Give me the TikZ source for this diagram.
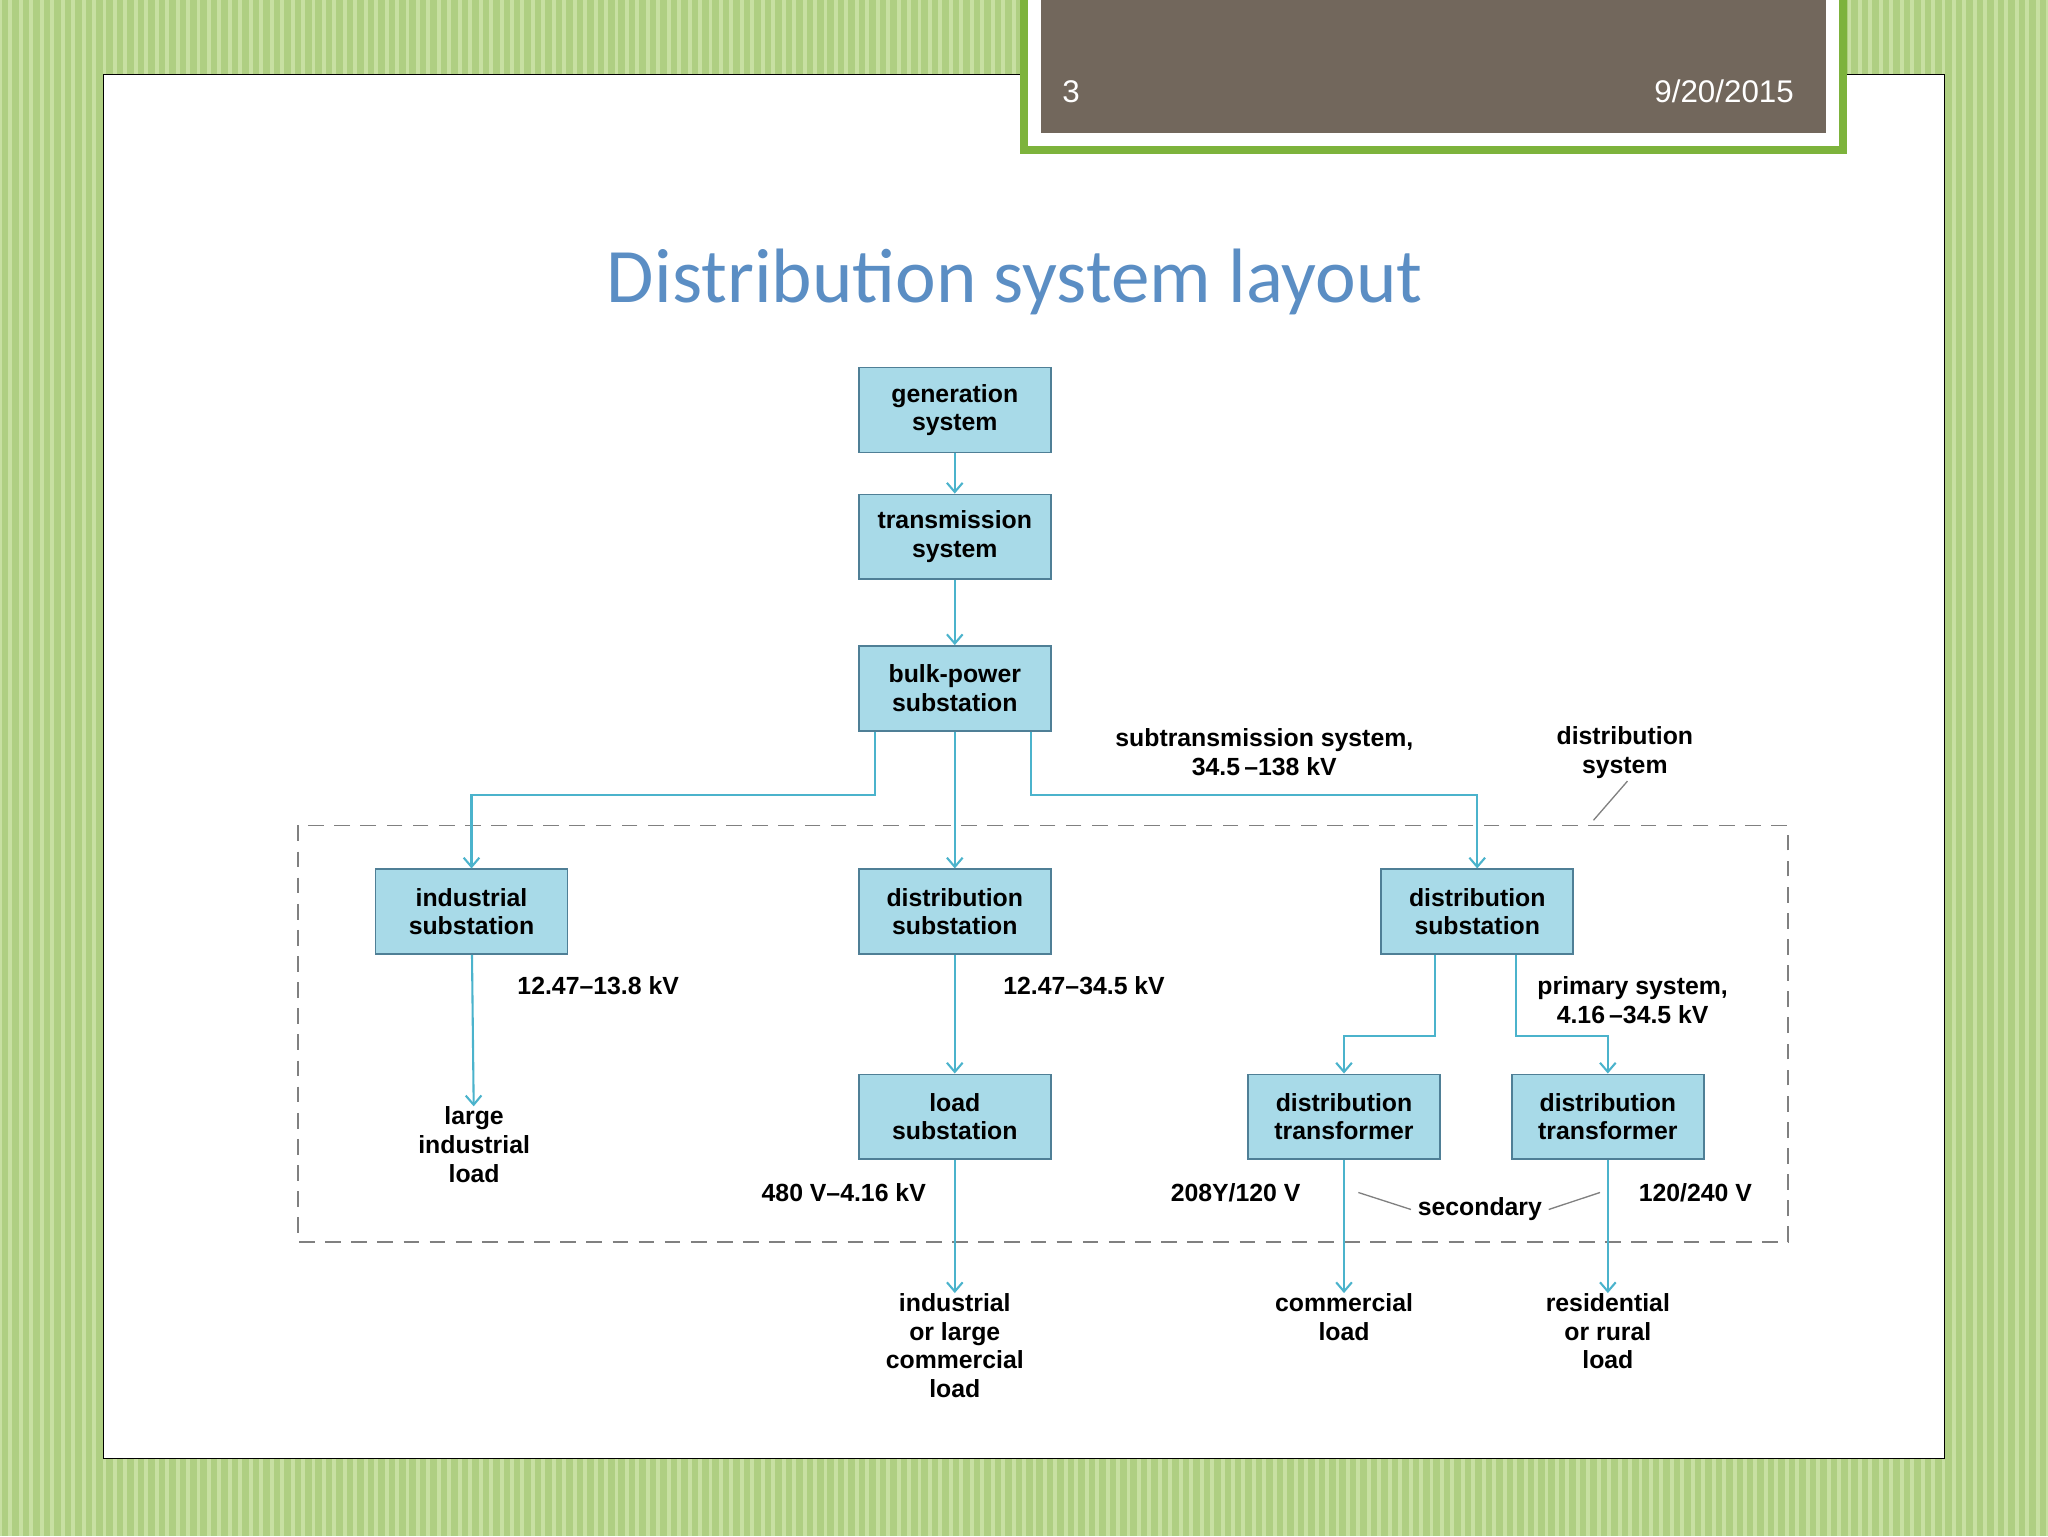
\documentclass[tikz,border=0pt]{standalone}
\usepackage{fontspec}
\setmainfont{Liberation Sans}
\newfontfamily\carl{Carlito}
\usetikzlibrary{calc,arrows.meta}
\definecolor{bg}{HTML}{AFCF82}
\definecolor{bgl}{HTML}{C8E0A2}
\definecolor{hdr}{HTML}{72675C}
\definecolor{hgr}{HTML}{7DB33C}
\definecolor{ttl}{HTML}{5B8EC4}
\definecolor{bfill}{HTML}{A8DAE8}
\definecolor{bdraw}{HTML}{4F7F96}
\definecolor{ln}{HTML}{4BB3CC}
\begin{document}
\begin{tikzpicture}[x=1pt,y=-1pt,
  box/.style={draw=bdraw,line width=1.2pt,fill=bfill,minimum width=147pt,minimum height=65pt,align=center,font=\fontsize{19}{22}\selectfont\bfseries},
  lbl/.style={align=center,font=\fontsize{19}{22}\selectfont\bfseries,inner sep=0pt},
  con/.style={ln,line width=1.6pt,-{Straight Barb[length=7pt,width=12pt]}},
  con0/.style={ln,line width=1.6pt}]
\useasboundingbox (0,0) rectangle (1568,1176);
\fill[bg] (0,0) rectangle (1568,1176);
\foreach \i in {0,8,...,1568} \draw[bgl,line width=3pt] (\i,0) -- (\i,1176);
\draw[black,line width=0.8pt,fill=white] (79,57) rectangle (1489,1117);
\fill[hgr] (781,0) rectangle (1414,118);
\fill[white] (787,0) rectangle (1408,112);
\fill[hdr] (797,0) rectangle (1398,102);
\node[white,font=\fontsize{24}{28}\selectfont] (pg) at (820,70) {3};
\node[white,font=\fontsize{24}{28}\selectfont] (dt) at (1320,70) {9/20/2015};
\node[ttl,font=\carl\fontsize{59}{66}\selectfont] (title) at (777,216) {Distribution system layout};

\draw[gray,dashed,dash pattern=on 12pt off 8pt,line width=1.5pt] (228,632) rectangle (1369,951);

\node[box] (gen) at (731,314) {generation\\system};
\node[box] (trans) at (731,411) {transmission\\system};
\node[box] (bulk) at (731,527) {bulk-power\\substation};
\node[box] (ind) at (361,698) {industrial\\substation};
\node[box] (ds1) at (731,698) {distribution\\substation};
\node[box] (ds2) at (1131,698) {distribution\\substation};
\node[box] (load) at (731,855) {load\\substation};
\node[box] (dt1) at (1029,855) {distribution\\transformer};
\node[box] (dt2) at (1231,855) {distribution\\transformer};

\node[lbl,anchor=north] (lil) at (363,847) {large\\industrial\\load};
\node[lbl,anchor=north] (icl) at (731,990) {industrial\\or large\\commercial\\load};
\node[lbl,anchor=north] (cl) at (1029,990) {commercial\\load};
\node[lbl,anchor=north] (rl) at (1231,990) {residential\\or rural\\load};

\draw[con] (gen) -- (trans);
\draw[con] (trans) -- (bulk);
\draw[con] (bulk) -- (ds1);
\draw[con] ($(bulk.south)+(-61,0)$) |- (361,609) -- (ind.north);
\draw[con] ($(bulk.south)+(58,0)$) |- (1131,609) -- (ds2.north);
\draw[con] (ind) -- (lil);
\draw[con] (ds1) -- (load);
\draw[con] (load) -- (icl);
\draw[con] ($(ds2.south)+(-32,0)$) |- (1029,793) -- (dt1.north);
\draw[con] ($(ds2.south)+(30,0)$) |- (1231,793) -- (dt2.north);
\draw[con] (dt1) -- (cl);
\draw[con] (dt2) -- (rl);

\node[lbl] (sub) at (968,576) {subtransmission system,\\34.5\,--138 kV};
\node[lbl] (dsys) at (1244,576) {distribution\\system};
\coordinate (dsysp) at (1220,628);
\draw[gray,line width=1pt] ($(dsys.south)+(2,2)$) -- (dsysp);
\node[lbl] (v1) at (458,755) {12.47--13.8 kV};
\node[lbl] (v2) at (830,755) {12.47--34.5 kV};
\node[lbl] (v3) at (1250,766) {primary system,\\4.16\,--34.5 kV};
\node[lbl] (v4) at (646,913) {480 V--4.16 kV};
\node[lbl] (v5) at (946,913) {208Y/120 V};
\node[lbl] (sec) at (1133,926) {secondary};
\node[lbl] (v6) at (1298,913) {120/240 V};
\coordinate (s1) at (1040,913);
\coordinate (s2) at (1225,913);
\draw[gray,line width=1pt] (s1) -- ($(sec.west)+(-5,0)$);
\draw[gray,line width=1pt] ($(sec.east)+(5,0)$) -- (s2);
\end{tikzpicture}
\end{document}
